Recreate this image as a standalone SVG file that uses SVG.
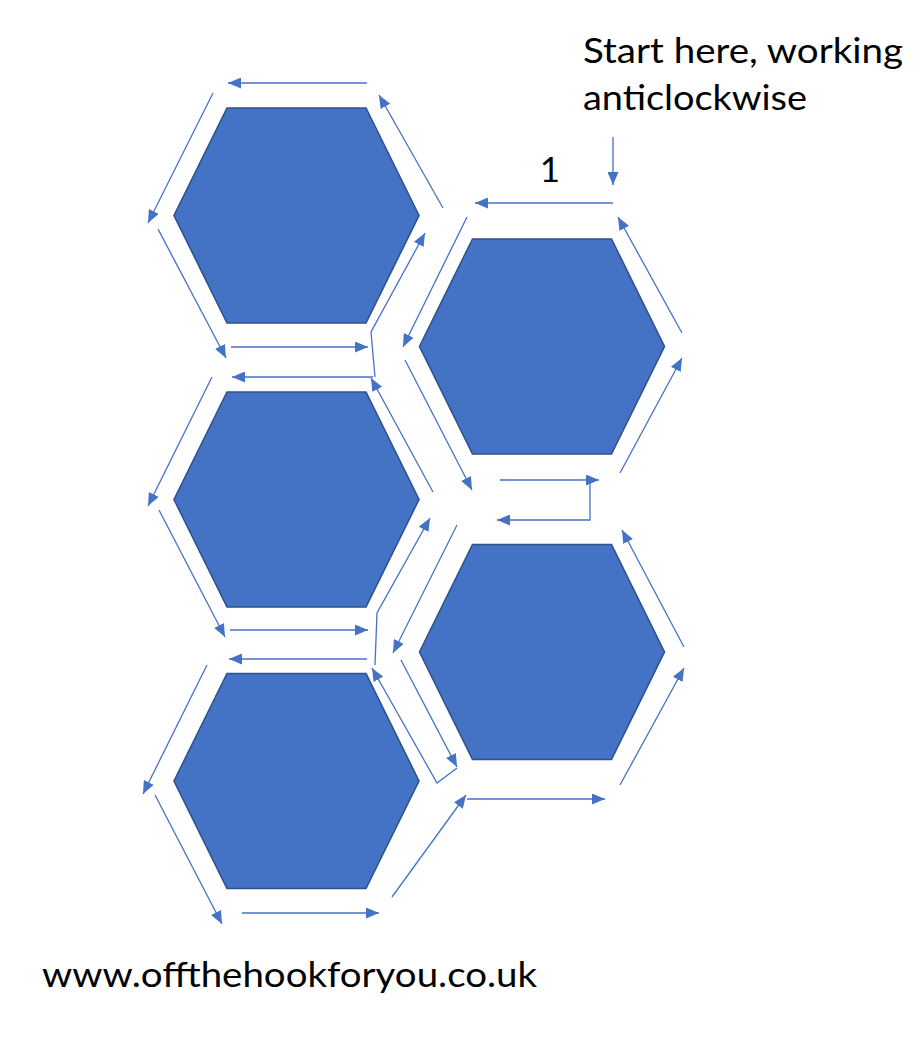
<svg xmlns="http://www.w3.org/2000/svg" width="924" height="1049" viewBox="0 0 924 1049">
<style>
.hex{fill:#4472C4;stroke:#2F528F;stroke-width:1.6;stroke-linejoin:miter}
.c{fill:none;stroke:#4472C4;stroke-width:1.3;marker-end:url(#ah)}
.t{font-family:Lato,"Liberation Sans",sans-serif;fill:#000}
</style>
<defs>
<marker id="ah" markerWidth="13" markerHeight="11" refX="13" refY="5.5" orient="auto" markerUnits="userSpaceOnUse">
<path d="M0,0 L13,5.5 L0,11 z" fill="#4472C4"/>
</marker>
<path id="hx" d="M-69.5,-107.5 L69.5,-107.5 L122.5,0 L69.5,107.5 L-69.5,107.5 L-122.5,0 Z"/>
</defs>
<rect width="924" height="1049" fill="#fff"/>
<g id="hex1"><use href="#hx" class="hex" transform="translate(296.5,215.5)"/></g>
<g id="hex2"><use href="#hx" class="hex" transform="translate(296.5,499.5)"/></g>
<g id="hex3"><use href="#hx" class="hex" transform="translate(542,346.5)"/></g>
<g id="hex4"><use href="#hx" class="hex" transform="translate(542,652)"/></g>
<g id="hex5"><use href="#hx" class="hex" transform="translate(296.5,781)"/></g>
<g id="connectors">
<polyline class="c" points="367,83 228,83"/>
<polyline class="c" points="213,93 148,223"/>
<polyline class="c" points="158,229 226,358"/>
<polyline class="c" points="231,347 368,347"/>
<polyline class="c" points="375,377 371,332 425,233"/>
<polyline class="c" points="443,208 379,95"/>
<polyline class="c" points="373,377 232,377"/>
<polyline class="c" points="212,377 148,506"/>
<polyline class="c" points="159,510 225,637"/>
<polyline class="c" points="230,630 368,630"/>
<polyline class="c" points="375,665 377,613 430,518"/>
<polyline class="c" points="433,492 371,378"/>
<polyline class="c" points="613,137 613,185"/>
<polyline class="c" points="613,203 475,203"/>
<polyline class="c" points="467,217 403,347"/>
<polyline class="c" points="405,360 472,490"/>
<polyline class="c" points="500,480 599,480"/>
<polyline class="c" points="590,480 590,520 497,520"/>
<polyline class="c" points="620,473 682,358"/>
<polyline class="c" points="682,333 618,217"/>
<polyline class="c" points="457,525 393,653"/>
<polyline class="c" points="401,660 457,767"/>
<polyline class="c" points="467,799 605,799"/>
<polyline class="c" points="620,785 684,668"/>
<polyline class="c" points="684,647 622,530"/>
<polyline class="c" points="367,659 229,659"/>
<polyline class="c" points="207,665 143,794"/>
<polyline class="c" points="155,795 222,924"/>
<polyline class="c" points="242,913 379,913"/>
<polyline class="c" points="392,897 466,795"/>
<polyline class="c" points="457,768 437,783 372,668"/>
</g>
<g id="labels">
<text class="t" x="583" y="63" font-size="35" textLength="320" lengthAdjust="spacingAndGlyphs">Start here, working</text>
<text class="t" x="583" y="110" font-size="35" textLength="224" lengthAdjust="spacingAndGlyphs">anticlockwise</text>
<text class="t" x="550" y="182" font-size="35" text-anchor="middle">1</text>
<text class="t" x="42" y="987" font-size="35" textLength="495" lengthAdjust="spacingAndGlyphs">www.offthehookforyou.co.uk</text>
</g>
</svg>
